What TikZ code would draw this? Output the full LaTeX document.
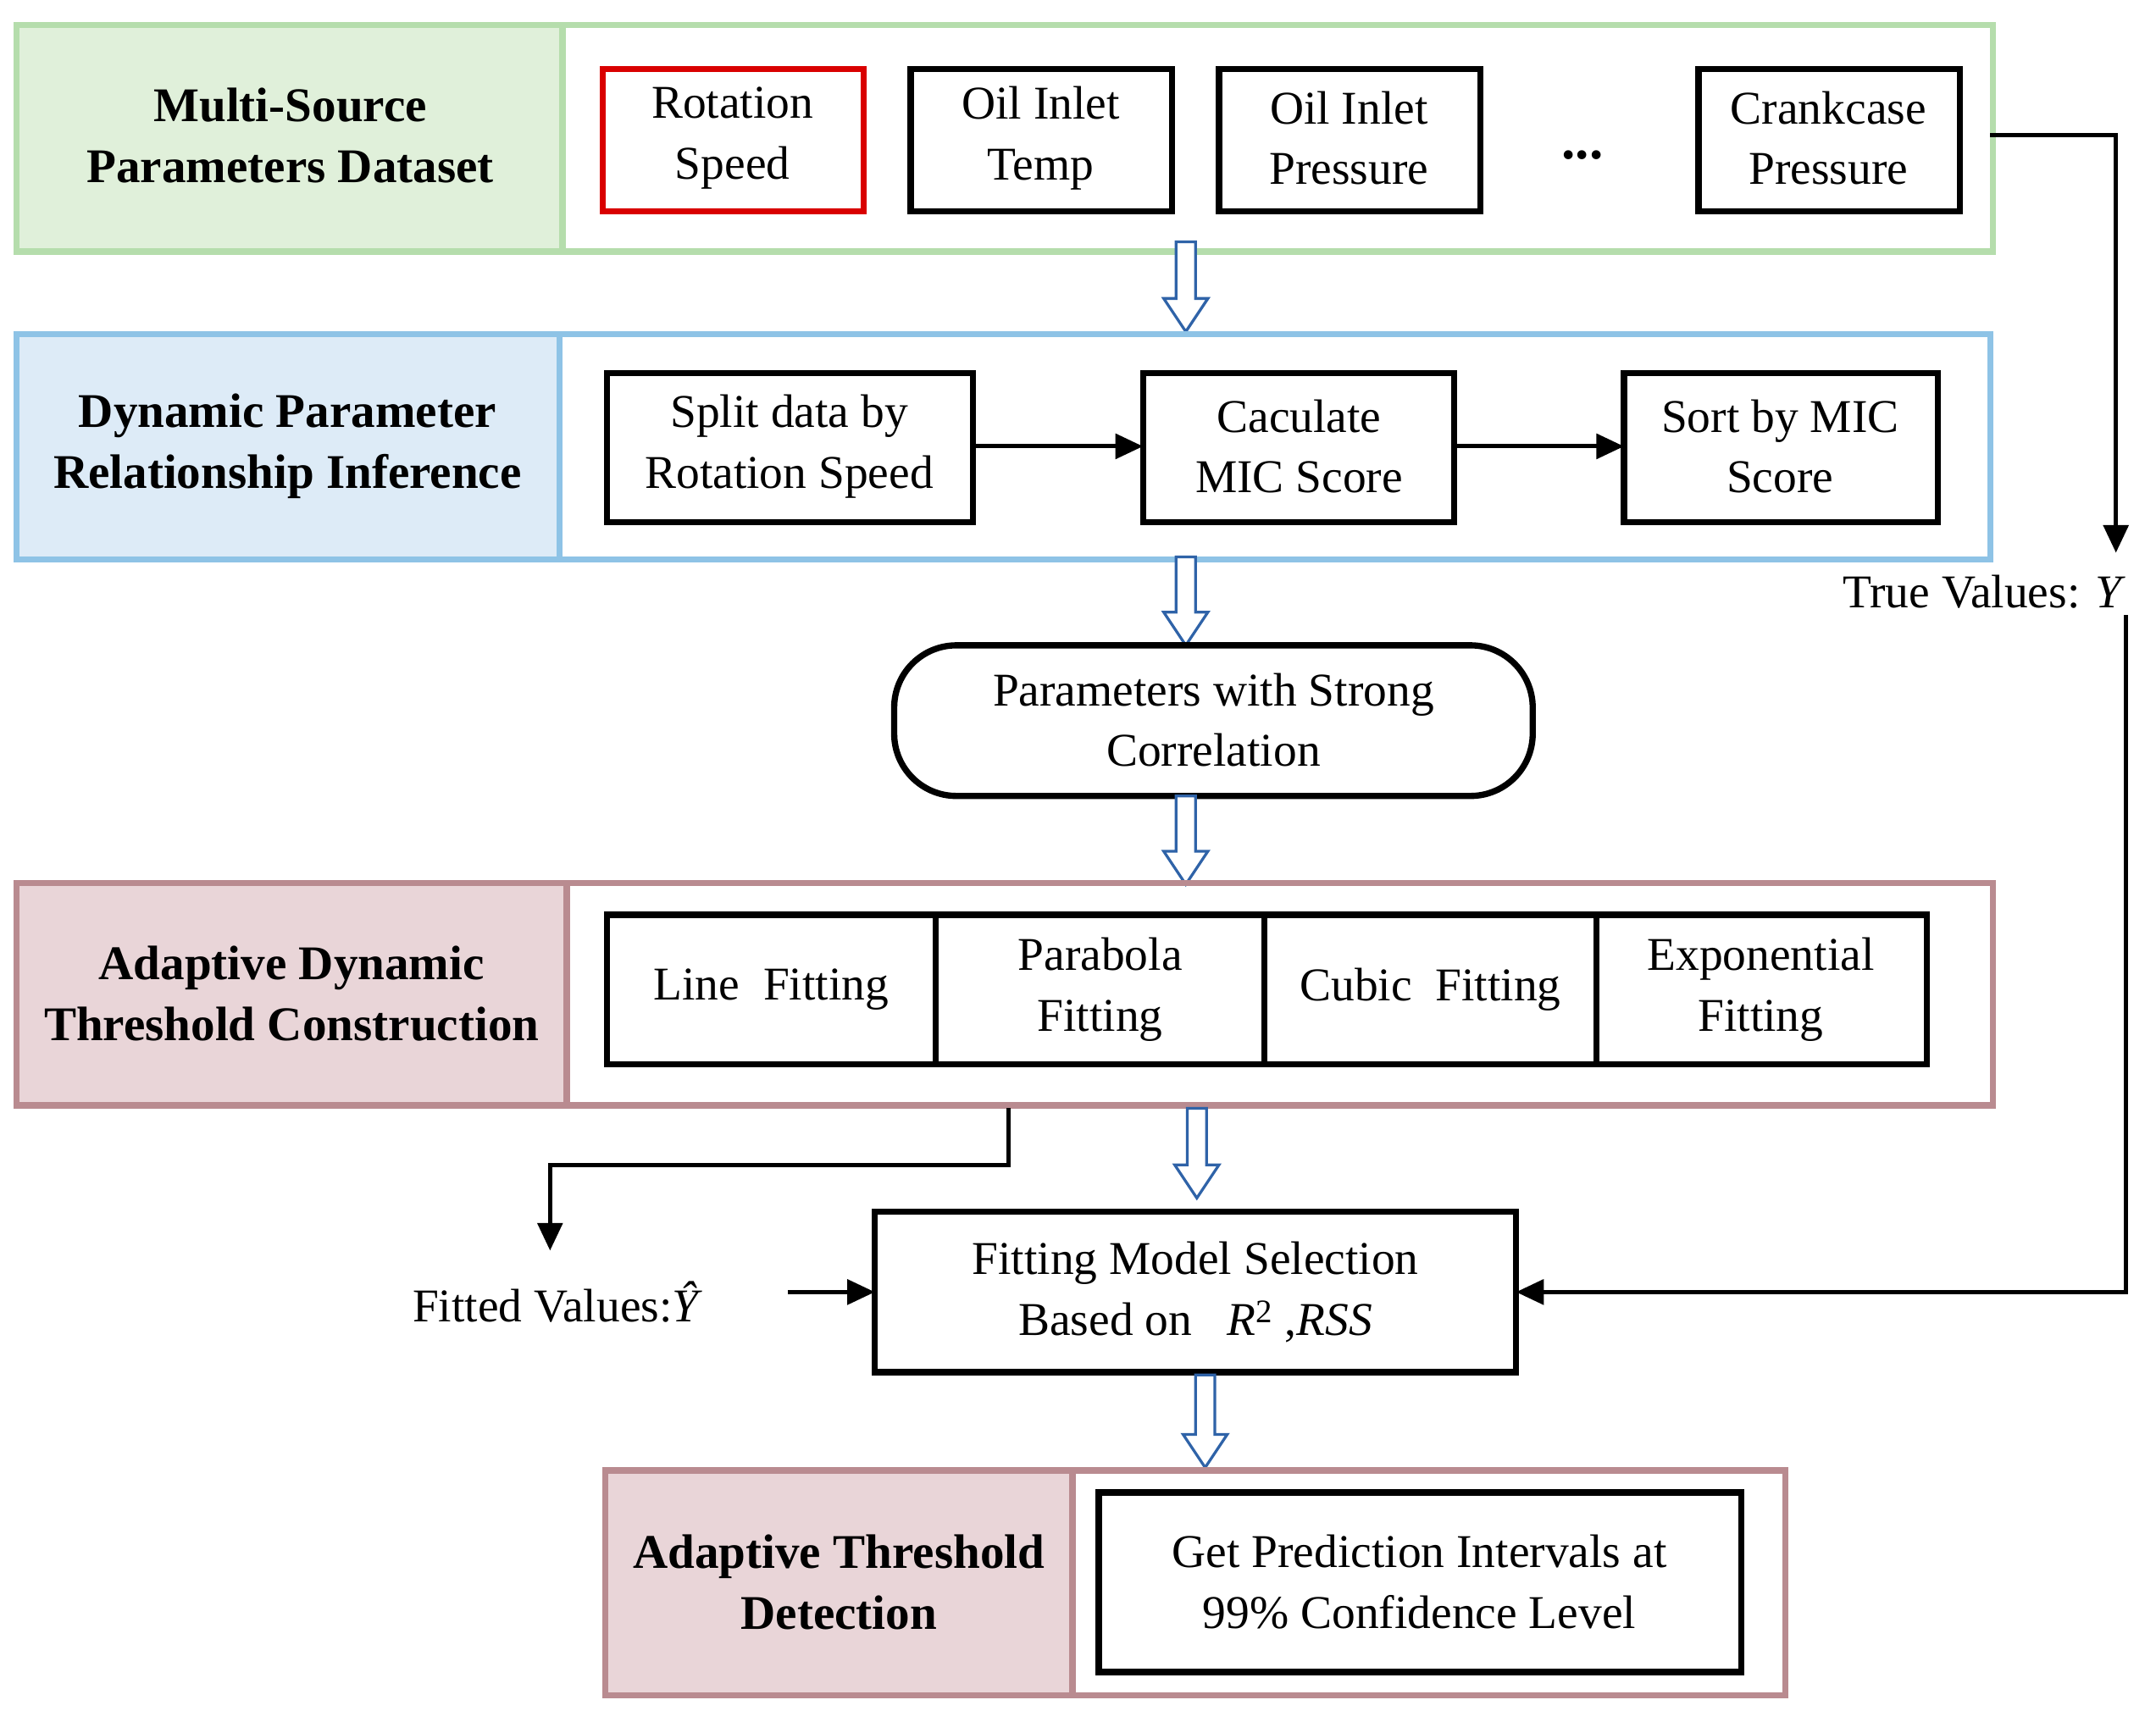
\documentclass[tikz,border=0pt]{standalone}
\usepackage{fontspec}
\setmainfont{Liberation Serif}
\usetikzlibrary{arrows.meta}
\definecolor{grnline}{HTML}{B5DDAC}
\definecolor{grnfill}{HTML}{E0F0DA}
\definecolor{bluline}{HTML}{8EC3E6}
\definecolor{blufill}{HTML}{DDEBF7}
\definecolor{redline}{HTML}{B98B90}
\definecolor{redfill}{HTML}{E9D5D8}
\definecolor{arrblue}{HTML}{2F63A8}
\begin{document}
\begin{tikzpicture}[x=1pt,y=-1pt,line join=miter,>={Triangle[length=20pt,width=18pt]},
  txt/.style={font=\fontsize{34}{44}\selectfont,align=center},
  lbl/.style={font=\fontsize{35}{44}\selectfont\bfseries,align=center},
  box/.style={draw,line width=4.5pt},
  conn/.style={line width=3pt}]

\def\hollow#1#2#3{\draw[arrblue,line width=2pt,fill=white] (#1-7,#2) -- (#1+7,#2) -- (#1+7,#3-24) -- (#1+16,#3-24) -- (#1,#3) -- (#1-16,#3-24) -- (#1-7,#3-24) -- cycle;}

\useasboundingbox (0,0) rectangle (1560,1238);

%row 1
\fill[grnfill] (12,18) rectangle (407,182);
\draw[grnline,line width=4.5pt] (12,18) rectangle (1442,182) (407,18) -- (407,182);
\node[lbl] (ms) at (210,98) {Multi-Source\\Parameters Dataset};
\draw[box,red!85!black] (436,50) rectangle (625,153);
\node[txt] (rs) at (530,100) {Rotation\\Speed};
\draw[box] (659,50) rectangle (848,153);
\node[txt] (oit) at (753,100) {Oil Inlet\\Temp};
\draw[box] (882,50) rectangle (1071,153);
\node[txt] (oip) at (976,100) {Oil Inlet\\Pressure};
\node[font=\fontsize{40}{40}\selectfont\bfseries] (dots) at (1145,112) {...};
\draw[box] (1229,50) rectangle (1418,153);
\node[txt] (cp) at (1323,100) {Crankcase\\Pressure};

\hollow{858}{175}{240}

%row 2
\fill[blufill] (12,242) rectangle (405,405);
\draw[bluline,line width=4.5pt] (12,242) rectangle (1440,405) (405,242) -- (405,405);
\node[lbl] (dp) at (208,323) {Dynamic Parameter\\Relationship Inference};
\draw[box] (439,270) rectangle (704,378);
\node[txt] (split) at (571,323) {Split data by\\Rotation Speed};
\draw[box] (827,270) rectangle (1052,378);
\node[txt] (mic) at (940,323) {Caculate\\MIC Score};
\draw[box] (1175,270) rectangle (1402,378);
\node[txt] (sort) at (1288,323) {Sort by MIC\\Score};
\coordinate (s1) at (704,323); \coordinate (m0) at (827,323);
\coordinate (m1) at (1052,323); \coordinate (o0) at (1175,323);
\draw[conn,->] (s1) -- (m0);
\draw[conn,->] (m1) -- (o0);

\hollow{858}{403}{467}

\draw[box,rounded corners=45pt] (647,467) rectangle (1109,576);
\node[txt] (psc) at (878,521) {Parameters with Strong\\Correlation};

\hollow{858}{576}{640}

%row 3
\fill[redfill] (12,639) rectangle (410,800);
\draw[redline,line width=4.5pt] (12,639) rectangle (1442,800) (410,639) -- (410,800);
\node[lbl] (adt) at (211,719) {Adaptive Dynamic\\Threshold Construction};
\draw[box] (439,662) rectangle (1394,770) (677,662) -- (677,770) (915,662) -- (915,770) (1155,662) -- (1155,770);
\node[txt] (lf) at (558,716) {Line~~Fitting};
\node[txt] (pf) at (796,716) {Parabola\\Fitting};
\node[txt] (cf) at (1035,716) {Cubic~~Fitting};
\node[txt] (ef) at (1274,716) {Exponential\\Fitting};

\hollow{866}{802}{867}

%fitted values
\coordinate (f0) at (730,802);
\coordinate (f1) at (398,905);
\draw[conn,->] (f0) -- (730,843) -- (398,843) -- (f1);
\node[txt,anchor=west] (fv) at (295,942) {Fitted Values:\textit{\^{Y}}};
\coordinate (fa) at (570,935);
\draw[box] (633,877) rectangle (1097,993);
\node[txt] (fms) at (865,935) {Fitting Model Selection\\Based on~~~\textit{R}\textsuperscript{2} ,\textit{RSS}};
\coordinate (fl) at (633,935); \coordinate (fr) at (1097,935);
\draw[conn,->] (fa) -- (fl);

%true values
\coordinate (t0) at (1440,98);
\coordinate (t1) at (1531,400);
\draw[conn,->] (t0) -- (1531,98) -- (t1);
\node[txt,anchor=west] (tv) at (1330,428) {True Values: \textit{Y}};
\coordinate (t2) at (1538,445);
\draw[conn,->] (t2) -- (1538,935) -- (fr);

\hollow{872}{995}{1062}

%row 4
\fill[redfill] (438,1064) rectangle (776,1227);
\draw[redline,line width=4.5pt] (438,1064) rectangle (1292,1227) (776,1064) -- (776,1227);
\node[lbl] (atd) at (607,1145) {Adaptive Threshold\\Detection};
\draw[box] (795,1080) rectangle (1260,1210);
\node[txt] (gpi) at (1027,1145) {Get Prediction Intervals at\\99\% Confidence Level};
\end{tikzpicture}
\end{document}
